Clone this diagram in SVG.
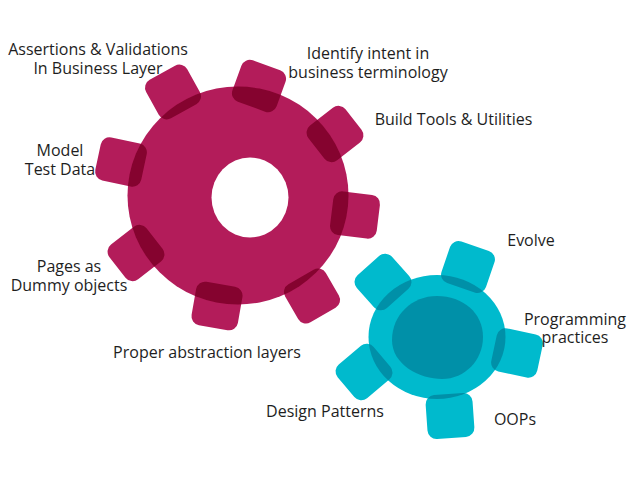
<svg xmlns="http://www.w3.org/2000/svg" xmlns:xlink="http://www.w3.org/1999/xlink" width="638" height="478" viewBox="0 0 638 478">
<style>
text{font-family:"Open Sans","Liberation Sans",sans-serif;font-size:16px;fill:#1e1e1e;text-anchor:middle}
.r{fill:#b31c5a}.rd{fill:#85032f}.c{fill:#00bacd}.cd{fill:#0090a8}
</style>
<defs>
<rect id="t" x="-23.500" y="-22" width="47" height="44" rx="9"/>
<clipPath id="cr"><ellipse cx="238" cy="195.500" rx="110.500" ry="109"/></clipPath>
<clipPath id="cc"><ellipse cx="437" cy="337" rx="68.500" ry="62"/></clipPath>
</defs>
<rect width="638" height="478" fill="#fff"/>
<g id="gear-red">
<g class="r">
<use xlink:href="#t" transform="translate(173 92) rotate(-29)"/>
<use xlink:href="#t" transform="translate(259 86) rotate(20)"/>
<use xlink:href="#t" transform="translate(335 134) rotate(-38)"/>
<use xlink:href="#t" transform="translate(355 215) rotate(7)"/>
<use xlink:href="#t" transform="translate(312 296) rotate(-30)"/>
<use xlink:href="#t" transform="translate(217 306) rotate(10)"/>
<use xlink:href="#t" transform="translate(136 253) rotate(-38)"/>
<use xlink:href="#t" transform="translate(121 162) rotate(12)"/>
</g>
<ellipse class="r" cx="238" cy="195.500" rx="110.500" ry="109"/>
<g class="rd" clip-path="url(#cr)">
<use xlink:href="#t" transform="translate(173 92) rotate(-29)"/>
<use xlink:href="#t" transform="translate(259 86) rotate(20)"/>
<use xlink:href="#t" transform="translate(335 134) rotate(-38)"/>
<use xlink:href="#t" transform="translate(355 215) rotate(7)"/>
<use xlink:href="#t" transform="translate(312 296) rotate(-30)"/>
<use xlink:href="#t" transform="translate(217 306) rotate(10)"/>
<use xlink:href="#t" transform="translate(136 253) rotate(-38)"/>
<use xlink:href="#t" transform="translate(121 162) rotate(12)"/>
</g>
<ellipse cx="250" cy="197.500" rx="38.500" ry="40" fill="#fff"/>
</g>
<g id="gear-cyan">
<g class="c">
<use xlink:href="#t" transform="translate(468 267) rotate(19)"/>
<use xlink:href="#t" transform="translate(383 282) rotate(-42)"/>
<use xlink:href="#t" transform="translate(517 353) rotate(12)"/>
<use xlink:href="#t" transform="translate(450 416) rotate(-4)"/>
<use xlink:href="#t" transform="translate(364 372) rotate(-40)"/>
</g>
<ellipse class="c" cx="437" cy="337" rx="68.500" ry="62"/>
<g class="cd" clip-path="url(#cc)">
<use xlink:href="#t" transform="translate(468 267) rotate(19)"/>
<use xlink:href="#t" transform="translate(383 282) rotate(-42)"/>
<use xlink:href="#t" transform="translate(517 353) rotate(12)"/>
<use xlink:href="#t" transform="translate(450 416) rotate(-4)"/>
<use xlink:href="#t" transform="translate(364 372) rotate(-40)"/>
</g>
<path class="cd" d="M392 340C392 315 412 296 437 296C463 296 483 313 483 337C483 360 465 379 442 379C420 379 392 365 392 340Z"/>
</g>
<g id="label-assertions"><text x="98" y="55">Assertions &amp; Validations</text><text x="98" y="74">In Business Layer</text></g>
<g id="label-identify"><text x="368" y="59">Identify intent in</text><text x="368" y="78">business terminology</text></g>
<g id="label-build"><text x="453.500" y="125">Build Tools &amp; Utilities</text></g>
<g id="label-model"><text x="60" y="156">Model</text><text x="60" y="175">Test Data</text></g>
<g id="label-pages"><text x="69" y="272">Pages as</text><text x="69" y="291">Dummy objects</text></g>
<g id="label-abstraction"><text x="207" y="358">Proper abstraction layers</text></g>
<g id="label-patterns"><text x="325" y="417">Design Patterns</text></g>
<g id="label-oops"><text x="515" y="425">OOPs</text></g>
<g id="label-programming"><text x="575" y="325">Programming</text><text x="575" y="343">practices</text></g>
<g id="label-evolve"><text x="531" y="246">Evolve</text></g>
</svg>
